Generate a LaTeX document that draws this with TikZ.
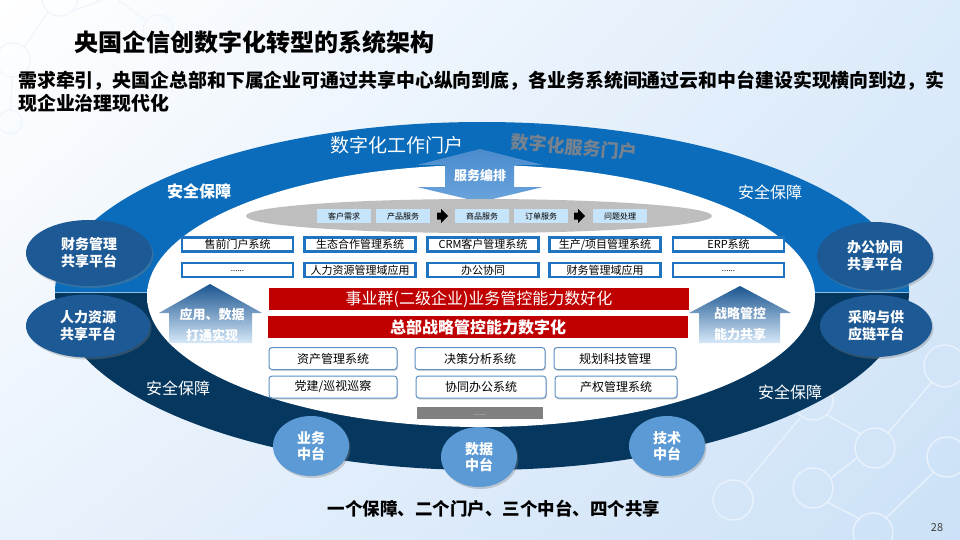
\documentclass[tikz,border=0pt]{standalone}
\usepackage{fontspec}
\setmainfont{Noto Sans CJK SC}
\usetikzlibrary{shapes.geometric,shadows,shadings}
\newcommand{\fsz}[2]{\fontsize{#1}{#2}\selectfont}
\definecolor{ringblue}{HTML}{0A6CBA}
\definecolor{ringnavy}{HTML}{05375F}
\definecolor{innerrim}{HTML}{DCE9F7}
\definecolor{bgul}{HTML}{FFFFFF}
\definecolor{bgur}{HTML}{DCEBFA}
\definecolor{bgll}{HTML}{E9F2FC}
\definecolor{bglr}{HTML}{CCE1F7}
\definecolor{boxblue}{HTML}{1F74C2}
\definecolor{svcblue}{HTML}{C6E4FA}
\definecolor{rboxedge}{HTML}{5C8FC2}
\definecolor{barred}{HTML}{C00000}
\definecolor{platblue}{HTML}{1D5A95}
\definecolor{hubblue}{HTML}{5B9AD4}
\definecolor{arrowdark}{HTML}{1B5590}
\definecolor{arrowmid}{HTML}{3C7BBE}
\definecolor{arrowlight}{HTML}{D6E8F8}
\definecolor{svctop}{HTML}{4A8BCD}
\definecolor{svcbot}{HTML}{6AA4DC}
\definecolor{portalgray}{HTML}{76828F}
\definecolor{ovalgray}{HTML}{BEBEBE}
\definecolor{decoline}{HTML}{EEF5FD}
\pgfdeclareradialshading{innerglow}{\pgfpoint{0bp}{0bp}}{color(0bp)=(white); color(32bp)=(white); color(50bp)=(innerrim)}
\begin{document}
\begin{tikzpicture}[x=1pt,y=-1pt,
  sysbox/.style={draw=boxblue, line width=2.2pt, fill=white, minimum width=111pt, minimum height=14pt, inner sep=0pt, font=\fsz{11}{11}},
  svcbox/.style={fill=svcblue, minimum width=54pt, minimum height=14pt, inner sep=0pt, font=\fsz{8}{8}},
  rbox/.style={draw=rboxedge, line width=1pt, rounded corners=3pt, fill=white, drop shadow={opacity=0.3, shadow xshift=1pt, shadow yshift=-1.5pt}, minimum height=22pt, inner sep=0pt, font=\fsz{12}{12}},
  redbar/.style={fill=barred, minimum width=420pt, minimum height=22pt, text=white, inner sep=0pt},
  platform/.style={ellipse, fill=platblue, text=white, font=\bfseries\fsz{14}{17}, align=center, inner sep=0pt, drop shadow={opacity=0.35, shadow xshift=1.5pt, shadow yshift=-2pt}},
  hub/.style={ellipse, fill=hubblue, text=white, font=\bfseries\fsz{14}{16.5}, align=center, inner sep=0pt, minimum width=76pt, minimum height=60pt, drop shadow={opacity=0.35, shadow xshift=1.5pt, shadow yshift=-2pt}},
  ringtext/.style={text=white, font=\fsz{16}{16}, inner sep=0pt},
  arrowtext/.style={text=white, font=\bfseries\fsz{13}{21}, align=center, inner sep=0pt},
  deco/.style={draw=decoline, line width=1.4pt, opacity=0.8}
]
\useasboundingbox (0,0) rectangle (960,540);
\shade[upper left=bgul, upper right=bgur, lower left=bgll, lower right=bglr] (0,0) rectangle (960,540);

% faint background network
\draw[deco] (60,-2) circle[radius=18pt];
\draw[deco] (13,60) circle[radius=17pt];
\draw[deco] (158,30) circle[radius=15pt];
\draw[deco] (10,122) circle[radius=12pt];
\draw[deco] (73,11) -- (112,-4);
\draw[deco] (24,47) -- (48,12);
\draw[deco] (118,0) -- (146,20);
\draw[deco] (12,77) -- (11,110);
\draw[deco] (733,500) circle[radius=20pt];
\draw[deco] (813,488) circle[radius=20pt];
\draw[deco] (875,448) circle[radius=20pt];
\draw[deco] (947,457) circle[radius=20pt];
\draw[deco] (813,400) circle[radius=20pt];
\draw[deco] (945,366) circle[radius=21pt];
\draw[deco] (873,533) circle[radius=20pt];
\draw[deco] (827,415) -- (861,434);
\draw[deco] (888,433) -- (932,382);
\draw[deco] (831,478) -- (857,458);
\draw[deco] (860,519) -- (827,502);
\draw[deco] (934,472) -- (886,518);
\draw[deco] (745,484) -- (800,418);

% ring
\begin{scope}
  \clip (0,0) rectangle (960,292);
  \fill[ringblue] (482,292) ellipse [x radius=427pt, y radius=170pt];
\end{scope}
\begin{scope}
  \clip (0,292) rectangle (960,540);
  \fill[ringnavy] (482,292) ellipse [x radius=427pt, y radius=178pt];
\end{scope}
\draw[white!55!ringblue, line width=1pt] (55,292) -- (910,292);
\shade[shading=innerglow] (481,296) ellipse [x radius=334pt, y radius=131pt];

% ring texts
\node[text=white, font=\fsz{19}{19}, inner sep=0pt] (workportal) at (397,145) {数字化工作门户};
\node[text=portalgray, font=\bfseries\fsz{18}{18}, inner sep=0pt, rotate=-5] (svcportal) at (574,147) {数字化服务门户};
\node[ringtext, font=\bfseries\fsz{16}{16}] (sec1) at (199,191) {安全保障};
\node[ringtext] (sec2) at (770,192) {安全保障};
\node[ringtext] (sec3) at (178,388) {安全保障};
\node[ringtext] (sec4) at (790,392) {安全保障};

% service orchestration arrow
\shade[top color=svctop, bottom color=svcbot]
  (480,149) -- (543,165) -- (514,165) -- (514,187) -- (543,187) -- (480,202)
  -- (417,187) -- (445,187) -- (445,165) -- (417,165) -- cycle;
\node[text=white, font=\bfseries\fsz{13}{13}, inner sep=0pt] (orch) at (480,176) {服务编排};

% gray service oval
\fill[ovalgray] (479,216) ellipse [x radius=233pt, y radius=17pt];
\node[svcbox] (s1) at (344,216) {客户需求};
\node[svcbox] (s2) at (403,216) {产品服务};
\node[svcbox] (s3) at (482,216) {商品服务};
\node[svcbox] (s4) at (541,216) {订单服务};
\node[svcbox] (s5) at (620,216) {问题处理};
\fill[black] (437,212.5) -- (441,212.5) -- (441,209) -- (448,216) -- (441,223) -- (441,219.5) -- (437,219.5) -- cycle;
\fill[black] (574,212.5) -- (578,212.5) -- (578,209) -- (585,216) -- (578,223) -- (578,219.5) -- (574,219.5) -- cycle;

% system boxes
\node[sysbox] (b11) at (237.5,244.5) {售前门户系统};
\node[sysbox] (b12) at (360,244.5) {生态合作管理系统};
\node[sysbox] (b13) at (483,244.5) {CRM客户管理系统};
\node[sysbox] (b14) at (605,244.5) {生产/项目管理系统};
\node[sysbox] (b15) at (728.5,244.5) {ERP系统};
\node[sysbox] (b21) at (237.5,270) {\raisebox{-4pt}{\fsz{8}{8}......}};
\node[sysbox] (b22) at (360,270) {人力资源管理域应用};
\node[sysbox] (b23) at (483,270) {办公协同};
\node[sysbox] (b24) at (605,270) {财务管理域应用};
\node[sysbox] (b25) at (728.5,270) {\raisebox{-4pt}{\fsz{8}{8}......}};

% red bars
\node[redbar, font=\fsz{16}{16}] (bar1) at (479,299) {事业群(二级企业)业务管控能力数好化};
\node[redbar, font=\bfseries\fsz{16}{16}] (bar2) at (478,327) {总部战略管控能力数字化};

% rounded boxes
\node[rbox, minimum width=128pt] (r11) at (333,358.5) {资产管理系统};
\node[rbox, minimum width=130pt] (r12) at (480,358.5) {决策分析系统};
\node[rbox, minimum width=122pt] (r13) at (615,358.5) {规划科技管理};
\node[rbox, minimum width=128pt] (r21) at (333,387) {党建/巡视巡察};
\node[rbox, minimum width=130pt] (r22) at (481,387) {协同办公系统};
\node[rbox, minimum width=122pt] (r23) at (616,387) {产权管理系统};
\node[fill=gray, minimum width=126pt, minimum height=12pt, inner sep=0pt, text=white!85!gray, font=\fsz{7}{7}] (more) at (480,413) {\raisebox{-5pt}{......}};

% up arrows
\shade[top color=arrowdark, middle color=arrowmid, bottom color=arrowlight]
  (210,284) -- (262,313) -- (252,313) -- (252,343) -- (169,343) -- (169,313) -- (159,313) -- cycle;
\node[arrowtext] (upl) at (212,324.5) {应用、数据\\打通实现};
\shade[top color=arrowdark, middle color=arrowmid, bottom color=arrowlight]
  (740,286) -- (791,313) -- (780,313) -- (780,343) -- (699,343) -- (699,313) -- (689,313) -- cycle;
\node[arrowtext] (upr) at (740,324) {战略管控\\能力共享};

% platforms
\node[platform, minimum width=126pt, minimum height=66pt] (p1) at (89,253) {财务管理\\共享平台};
\node[platform, minimum width=124pt, minimum height=63pt] (p2) at (88,326) {人力资源\\共享平台};
\node[platform, minimum width=116pt, minimum height=68pt] (p3) at (875,256) {办公协同\\共享平台};
\node[platform, minimum width=112pt, minimum height=62pt] (p4) at (876,326) {采购与供\\应链平台};

% hubs
\node[hub] (h1) at (311,446) {业务\\中台};
\node[hub] (h2) at (479,457) {数据\\中台};
\node[hub] (h3) at (667,446) {技术\\中台};

% titles
\node[anchor=west, font=\bfseries\fsz{24}{24}, inner sep=0pt] (title) at (74,42) {央国企信创数字化转型的系统架构};
\node[anchor=west, font=\bfseries\fsz{18.9}{18.9}, inner sep=0pt] (sub1) at (18,81) {需求牵引，央国企总部和下属企业可通过共享中心纵向到底，各业务系统间通过云和中台建设实现横向到边，实};
\node[anchor=west, font=\bfseries\fsz{18.9}{18.9}, inner sep=0pt] (sub2) at (18,103) {现企业治理现代化};
\node[font=\bfseries\fsz{17.5}{17.5}, inner sep=0pt] (caption) at (494,509) {一个保障、二个门户、三个中台、四个共享};
\node[font=\fsz{11}{11}, text=black!75, inner sep=0pt] (page) at (937,528) {28};
\end{tikzpicture}
\end{document}
